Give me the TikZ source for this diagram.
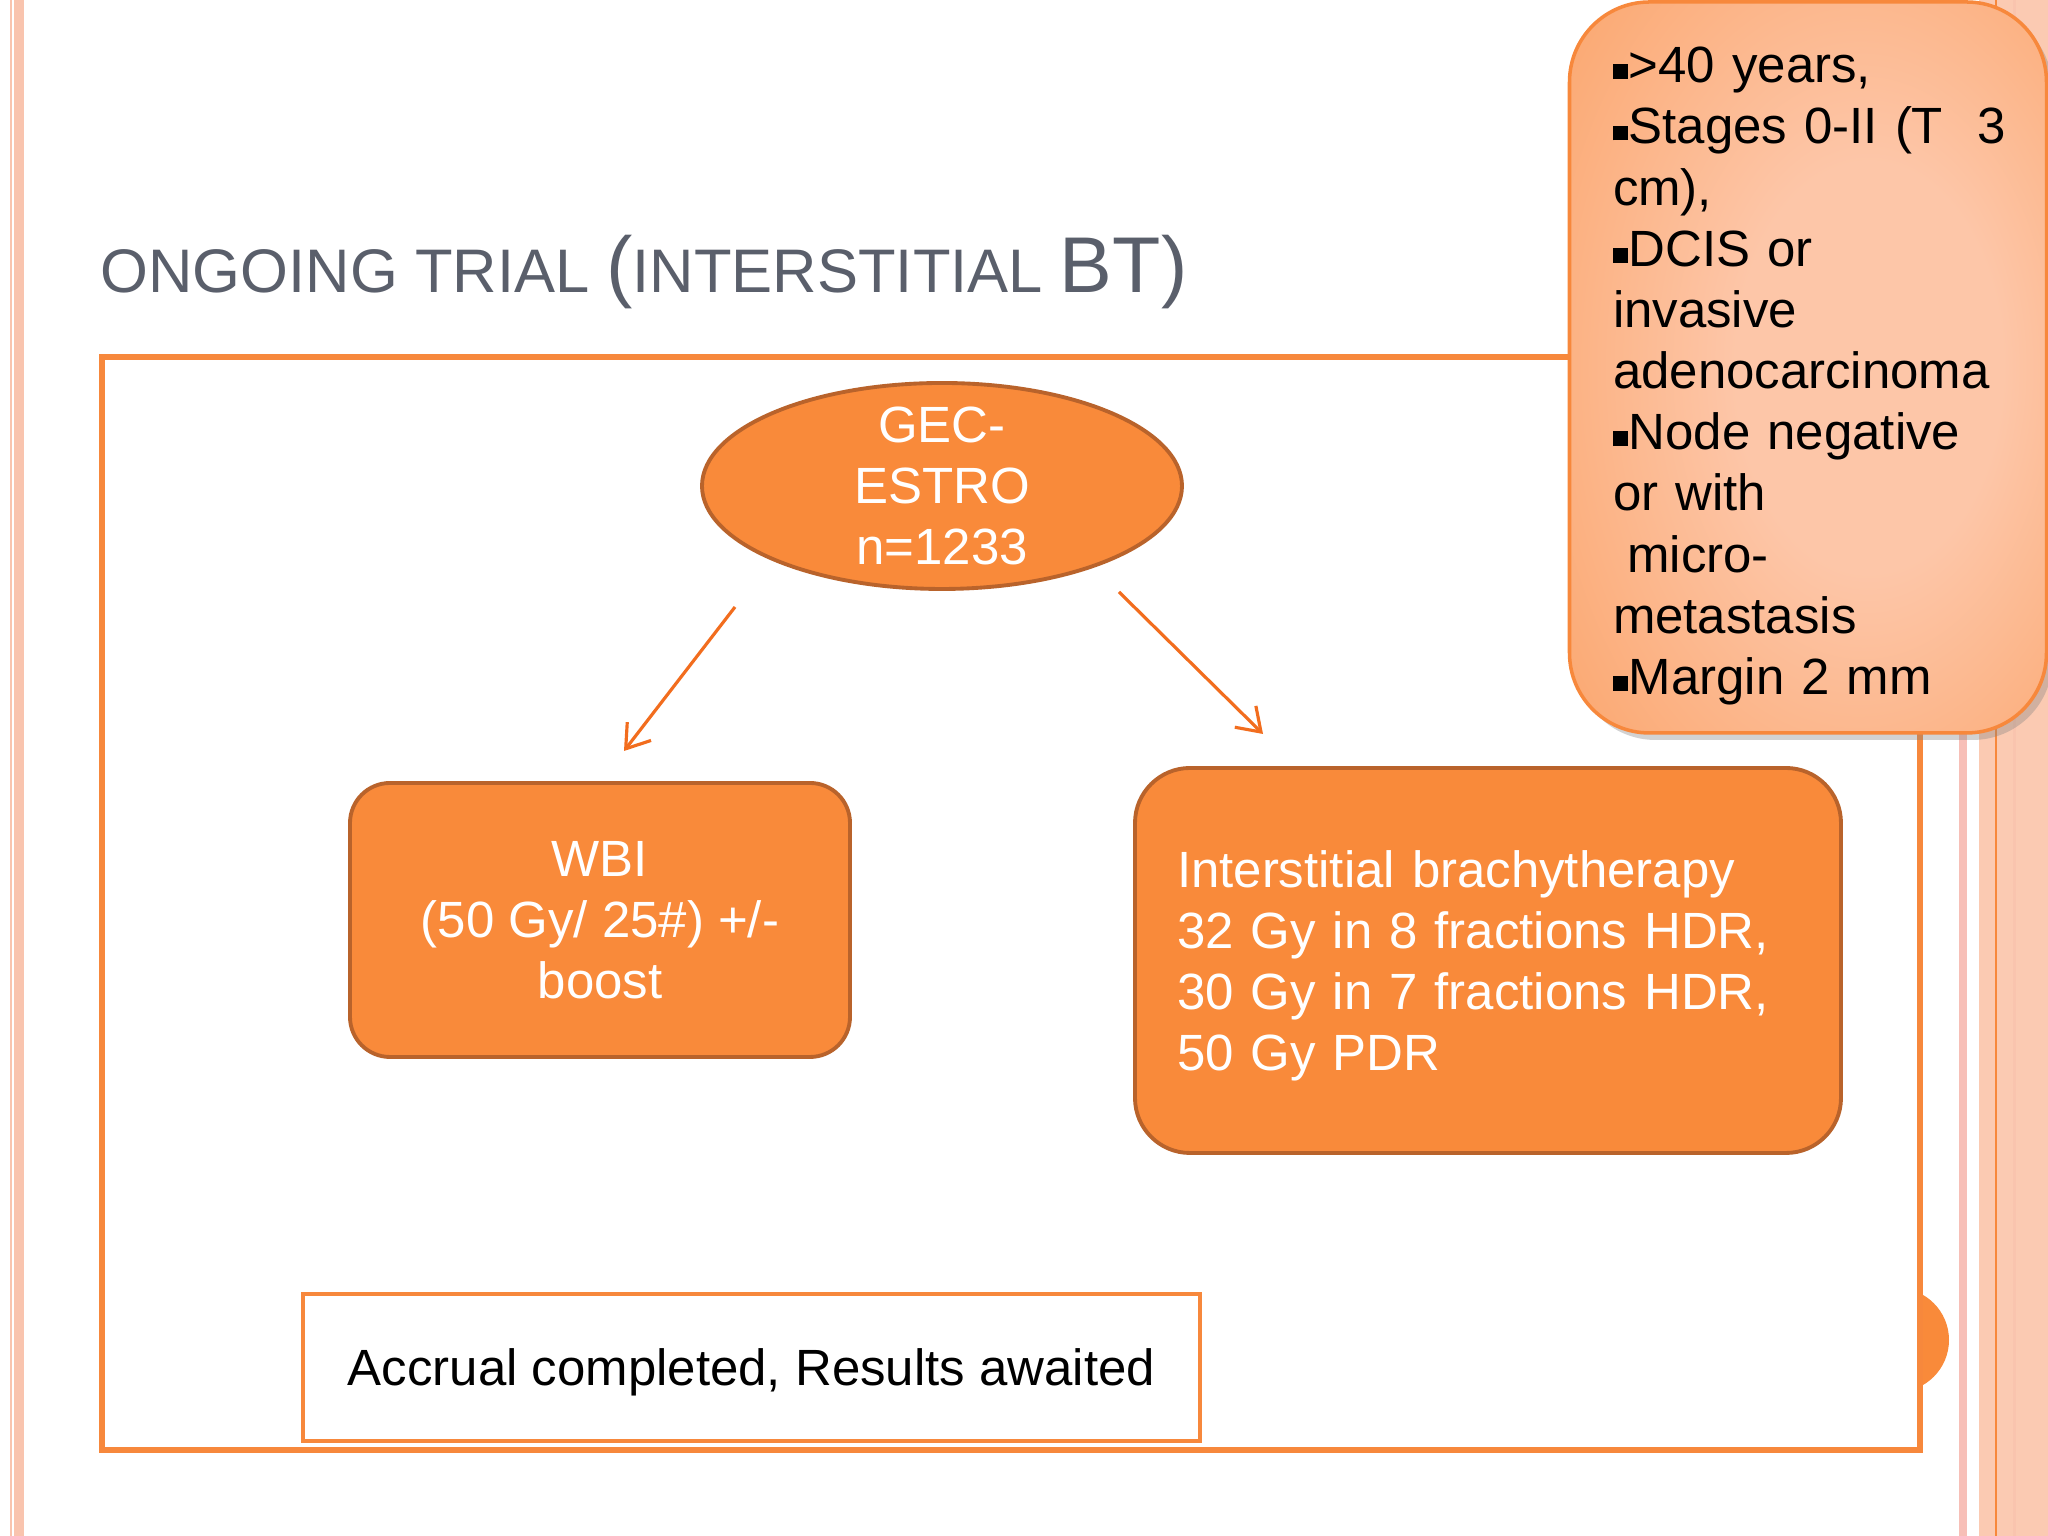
\documentclass[tikz,border=0pt]{standalone}
\usepackage{fontspec}
\setmainfont{Liberation Sans}
\usetikzlibrary{arrows.meta,shapes.geometric,shadows}
\definecolor{trorange}{HTML}{F98A3A}
\definecolor{trrust}{HTML}{B9632B}
\definecolor{trframe}{HTML}{F7883C}
\definecolor{trarrow}{HTML}{F26D1E}
\definecolor{trgray}{HTML}{5A5F6B}
\definecolor{trsalmon}{HTML}{F9C4AE}
\definecolor{trpink}{HTML}{F7BFB7}
\definecolor{trpeach}{HTML}{FDC6A8}
\definecolor{trpeel}{HTML}{FBCAB2}
\pgfdeclareradialshading{glow}{\pgfpoint{8bp}{0bp}}{color(0bp)=(trpeach); color(14bp)=(trpeach); color(40bp)=(trorange!55!trpeach); color(52bp)=(trorange!90!trpeach); color(70bp)=(trorange)}
\newcommand{\sqb}{\rule[0.07em]{0.29em}{0.29em}\hspace{0.02em}}
\newcommand{\bodyfont}{\fontsize{14.5}{17.4}\selectfont}
\newcommand{\bigtitle}{\fontsize{22.5}{24}\selectfont}
\tikzset{
  txt/.style={font=\bodyfont, inner sep=0pt},
  arm/.style={txt, draw=trrust, line width=1.1pt, fill=trorange, text=white},
  flow/.style={-{Straight Barb[length=2.2mm, width=3mm]}, line width=0.9pt, color=trarrow},
  title/.style={font=\fontsize{17.5}{20}\selectfont, text=trgray, inner sep=0pt},
}

\begin{document}
\begin{tikzpicture}
  \useasboundingbox (0,0) rectangle (20.48,15.36);
  \fill[white] (0,0) rectangle (20.48,15.36);
  % side stripes
  \fill[trsalmon] (0.10,0) rectangle (0.12,15.36);
  \fill[trsalmon] (0.14,0) rectangle (0.24,15.36);
  \fill[trpink] (19.59,0) rectangle (19.67,15.36);
  \fill[trpeel] (19.79,0) rectangle (20.48,15.36);
  \fill[trsalmon] (20.13,0) rectangle (20.16,15.36);
  \draw[trframe, line width=0.5pt] (19.96,0) -- (19.96,15.36);
  % panel
  \fill[trorange] (18.97,1.96) circle (0.52);
  \draw[trframe, line width=1.5pt, fill=white] (1.02,0.86) rectangle (19.20,11.79);

  \node[title, anchor=base west] (title) at (1.0,12.43)
    {ONGOING TRIAL {\bigtitle(}INTERSTITIAL {\bigtitle BT)}};

  \node[arm, ellipse, inner ysep=-1.27mm, minimum width=4.8cm, minimum height=2.06cm, align=center] (gec)
    at (9.42,10.50) {GEC-\\ESTRO\\n=1233};
  \node[arm, rounded corners=4mm, minimum width=5.0cm, minimum height=2.74cm, align=center] (wbi)
    at (6.00,6.16) {WBI\\(50 Gy/ 25\#) +/-\\boost};
  \node[arm, rounded corners=5.5mm, minimum width=7.06cm, minimum height=3.85cm, text width=6.22cm, align=left] (ibt)
    at (14.88,5.755) {\rule{0pt}{13.5pt}Interstitial brachytherapy\\32 Gy in 8 fractions HDR,\\30 Gy in 7 fractions HDR,\\50 Gy PDR};

  \coordinate (gecl) at (7.35,9.29);
  \coordinate (gecr) at (11.19,9.44);
  \coordinate (wbitop) at (6.24,7.85);
  \coordinate (ibttop) at (12.63,8.02);
  \draw[flow] (gecl) -- (wbitop);
  \draw[flow] (gecr) -- (ibttop);

  \node[txt, draw=trframe, line width=1.4pt, fill=white, minimum width=8.97cm, minimum height=1.47cm, text depth=0pt] (status)
    at (7.515,1.685) {Accrual completed, Results awaited};

  % eligibility callout
  \node[txt, draw=trframe, line width=1pt, rounded corners=8mm, shading=glow,
        drop shadow={shadow xshift=0.6mm, shadow yshift=-0.7mm, opacity=0.35},
        minimum width=4.77cm, minimum height=7.31cm, text width=3.9cm, align=left] (crit)
    at (18.08,11.685) {\rule{0pt}{15pt}\sqb>40 years,\\
      \mbox{\sqb Stages 0-II (T\ \ 3}\\
      cm),\\
      \sqb DCIS or\\
      invasive\\
      adenocarcinoma\\
      \sqb Node negative\\
      or with\\
      \hspace*{0.28em}micro-\\
      metastasis\\
      \sqb Margin 2 mm};
\end{tikzpicture}
\end{document}
